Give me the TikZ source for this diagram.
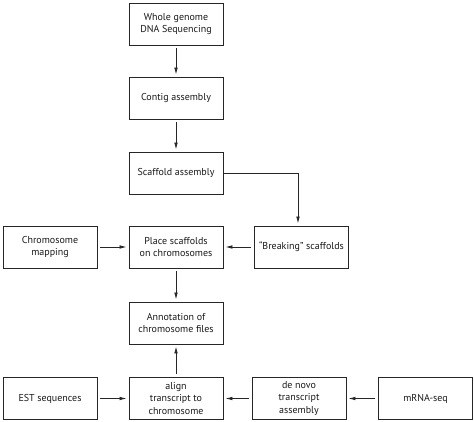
\documentclass[tikz,border=0pt]{standalone}
\usepackage{fontspec}
\setmainfont{PT Sans}
\usetikzlibrary{arrows.meta}
\begin{document}
\begin{tikzpicture}[x=1pt,y=1pt,
  stepbox/.style={draw=black!85,line width=0.9pt,minimum width=94pt,minimum height=42pt,
    inner sep=1pt,align=center,font=\fontsize{10}{12.5}\selectfont,text=black!90},
  flow/.style={draw=black!85,line width=0.8pt,-{Latex[length=7pt,width=3.6pt]},shorten >=2pt,shorten <=3pt}]
\useasboundingbox (0,0) rectangle (474,421);
\node[stepbox] (wgs) at (176,397) {Whole genome\\DNA Sequencing};
\node[stepbox] (contig) at (176,323) {Contig assembly};
\node[stepbox] (scaf) at (176,248) {Scaffold assembly};
\node[stepbox] (chrom) at (50,174) {Chromosome\\mapping};
\node[stepbox] (place) at (176,174) {Place scaffolds\\on chromosomes};
\node[stepbox] (break) at (301.5,174) {``Breaking'' scaffolds};
\node[stepbox] (annot) at (176,98) {Annotation of\\chromosome files};
\node[stepbox] (est) at (50,22.5) {EST sequences};
\node[stepbox] (align) at (176,22.5) {align\\transcript to\\chromosome};
\node[stepbox] (denovo) at (299,22.5) {de novo\\transcript\\assembly};
\node[stepbox] (mrna) at (425.5,22.5) {mRNA-seq};
\coordinate (bend) at (298,248);
\draw[flow] (wgs) -- (contig);
\draw[flow] (contig) -- (scaf);
\draw[flow,shorten <=0pt] (scaf.east) -- (bend) -- (bend |- break.north);
\draw[flow] (chrom) -- (place);
\draw[flow] (break) -- (place);
\draw[flow] (place) -- (annot);
\draw[flow] (align) -- (annot);
\draw[flow] (est) -- (align);
\draw[flow] (denovo) -- (align);
\draw[flow] (mrna) -- (denovo);
\end{tikzpicture}
\end{document}
